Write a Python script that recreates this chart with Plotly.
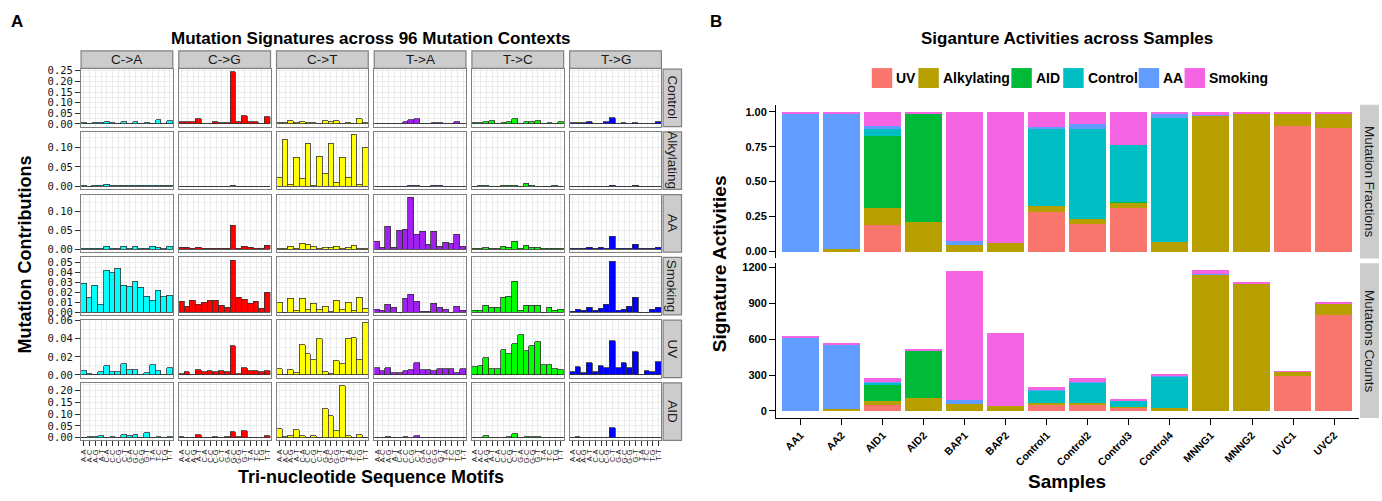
import plotly.graph_objects as go

W, H = 1382, 501

# ---------------- data: panel A ----------------
mutation_types = ["C->A", "C->G", "C->T", "T->A", "T->C", "T->G"]
bases = ["A", "C", "G", "T"]
signatures = ["Control", "Alkylating", "AA", "Smoking", "UV", "AID"]
type_colors = ["#00FFFF", "#FF0000", "#FFFF00", "#A020F0", "#00FF00", "#0000FF"]

control = [
    0.003, 0.001, 0.002, 0.004, 0.010, 0.003, 0.001, 0.010, 0.001, 0.010, 0.001, 0.004, 0.001, 0.018, 0.001, 0.015,
    0.008, 0.008, 0.008, 0.023, 0.001, 0.001, 0.007, 0.004, 0.004, 0.245, 0.008, 0.037, 0.008, 0.008, 0.001, 0.031,
    0.003, 0.003, 0.014, 0.002, 0.009, 0.004, 0.004, 0.001, 0.014, 0.009, 0.014, 0.001, 0.004, 0.001, 0.023, 0.002,
    0.001, 0.001, 0.001, 0.001, 0.001, 0.008, 0.018, 0.023, 0.001, 0.001, 0.003, 0.003, 0.001, 0.001, 0.010, 0.001,
    0.002, 0.004, 0.009, 0.013, 0.001, 0.004, 0.009, 0.023, 0.001, 0.009, 0.009, 0.013, 0.001, 0.003, 0.001, 0.008,
    0.002, 0.002, 0.002, 0.008, 0.001, 0.001, 0.008, 0.028, 0.001, 0.003, 0.001, 0.003, 0.001, 0.001, 0.001, 0.008,
]
alkylating = [
    0.001, 0.0004, 0.001, 0.001, 0.004, 0.001, 0.001, 0.001, 0.001, 0.002, 0.001, 0.001, 0.002, 0.002, 0.001, 0.001,
    0.0004, 0.0004, 0.0004, 0.0004, 0.0004, 0.0004, 0.0004, 0.0004, 0.0004, 0.002, 0.0004, 0.0004, 0.0004, 0.0004, 0.0004, 0.0004,
    0.022, 0.119, 0.004, 0.073, 0.019, 0.109, 0.003, 0.076, 0.032, 0.108, 0.009, 0.072, 0.022, 0.132, 0.004, 0.097,
    0.0004, 0.0004, 0.0004, 0.0004, 0.0004, 0.0004, 0.002, 0.002, 0.0004, 0.0004, 0.002, 0.002, 0.0004, 0.0004, 0.0004, 0.0004,
    0.0004, 0.002, 0.002, 0.0004, 0.0004, 0.002, 0.002, 0.002, 0.0004, 0.006, 0.002, 0.0004, 0.0004, 0.0004, 0.002, 0.0004,
    0.0004, 0.0004, 0.0004, 0.0004, 0.0004, 0.0004, 0.0004, 0.002, 0.0004, 0.0004, 0.0004, 0.002, 0.0004, 0.0004, 0.0004, 0.0004,
]
aa = [
    0.001, 0.002, 0.002, 0.001, 0.007, 0.002, 0.002, 0.007, 0.002, 0.007, 0.001, 0.002, 0.007, 0.004, 0.001, 0.007,
    0.004, 0.004, 0.001, 0.004, 0.002, 0.002, 0.002, 0.001, 0.002, 0.063, 0.001, 0.008, 0.004, 0.002, 0.002, 0.010,
    0.002, 0.002, 0.007, 0.001, 0.016, 0.013, 0.008, 0.002, 0.004, 0.004, 0.008, 0.001, 0.004, 0.010, 0.002, 0.002,
    0.021, 0.004, 0.060, 0.004, 0.050, 0.052, 0.138, 0.039, 0.047, 0.013, 0.047, 0.008, 0.018, 0.016, 0.039, 0.008,
    0.002, 0.001, 0.005, 0.002, 0.001, 0.008, 0.004, 0.021, 0.002, 0.010, 0.004, 0.004, 0.002, 0.002, 0.001, 0.001,
    0.001, 0.002, 0.002, 0.004, 0.002, 0.004, 0.002, 0.034, 0.002, 0.001, 0.002, 0.013, 0.001, 0.002, 0.001, 0.005,
]
smoking = [
    0.029, 0.0145, 0.027, 0.0075, 0.042, 0.040, 0.044, 0.027, 0.026, 0.031, 0.025, 0.016, 0.0115, 0.022, 0.016, 0.017,
    0.0105, 0.006, 0.0115, 0.0077, 0.0095, 0.0115, 0.0115, 0.0067, 0.0048, 0.052, 0.0144, 0.0125, 0.0087, 0.0105, 0.0038, 0.020,
    0.0096, 0.0003, 0.0135, 0.002, 0.0135, 0.003, 0.0087, 0.003, 0.0058, 0.001, 0.0115, 0.003, 0.0096, 0.002, 0.0144, 0.0038,
    0.0032, 0.002, 0.0077, 0.0048, 0.0002, 0.0135, 0.018, 0.011, 0.001, 0.001, 0.0087, 0.0048, 0.003, 0.0002, 0.0058, 0.002,
    0.0016, 0.0016, 0.0067, 0.0048, 0.0048, 0.0144, 0.0154, 0.031, 0.0016, 0.0067, 0.0067, 0.0067, 0.0002, 0.0048, 0.0016, 0.003,
    0.001, 0.003, 0.002, 0.0048, 0.002, 0.0038, 0.0077, 0.051, 0.002, 0.003, 0.0058, 0.0144, 0.0002, 0.0002, 0.003, 0.0048,
]
uv = [
    0.0042, 0.0014, 0.0003, 0.0032, 0.0095, 0.0032, 0.0032, 0.0116, 0.0053, 0.0053, 0.0003, 0.002, 0.0105, 0.0042, 0.0003, 0.0074,
    0.001, 0.0032, 0.0003, 0.0053, 0.0032, 0.0042, 0.0032, 0.0042, 0.0032, 0.0316, 0.001, 0.0074, 0.0042, 0.0042, 0.0032, 0.0042,
    0.0063, 0.0003, 0.0053, 0.002, 0.0326, 0.023, 0.0158, 0.040, 0.0032, 0.001, 0.0147, 0.0116, 0.040, 0.041, 0.0158, 0.0575,
    0.0074, 0.0042, 0.0074, 0.002, 0.002, 0.0042, 0.0053, 0.0126, 0.0053, 0.0053, 0.0042, 0.0063, 0.0063, 0.0063, 0.002, 0.0063,
    0.0084, 0.0095, 0.019, 0.0063, 0.0063, 0.0274, 0.023, 0.0337, 0.0442, 0.0263, 0.0316, 0.0358, 0.0105, 0.0105, 0.0063, 0.0053,
    0.0032, 0.0084, 0.002, 0.0126, 0.0032, 0.0095, 0.0074, 0.0368, 0.0074, 0.0126, 0.0074, 0.0253, 0.0003, 0.0042, 0.0032, 0.0137,
]
aid = [
    0.0006, 0.004, 0.004, 0.008, 0.0006, 0.004, 0.0006, 0.012, 0.008, 0.012, 0.0006, 0.021, 0.0006, 0.004, 0.0006, 0.004,
    0.004, 0.0006, 0.0006, 0.012, 0.0006, 0.0006, 0.004, 0.0006, 0.004, 0.025, 0.004, 0.029, 0.0006, 0.0006, 0.0006, 0.008,
    0.0375, 0.004, 0.008, 0.033, 0.008, 0.0006, 0.008, 0.0006, 0.121, 0.092, 0.029, 0.221, 0.008, 0.0006, 0.0125, 0.0006,
    0.0006, 0.0006, 0.004, 0.0006, 0.0006, 0.004, 0.0006, 0.008, 0.0006, 0.0006, 0.0006, 0.0006, 0.0006, 0.0006, 0.0006, 0.0006,
    0.0006, 0.0006, 0.008, 0.0006, 0.0006, 0.0006, 0.002, 0.017, 0.0006, 0.002, 0.002, 0.002, 0.0006, 0.0006, 0.0006, 0.0006,
    0.0006, 0.003, 0.0006, 0.0006, 0.0006, 0.0006, 0.0006, 0.042, 0.0006, 0.0006, 0.0006, 0.0006, 0.0006, 0.0006, 0.0006, 0.0006,
]
row_dticks = [0.05, 0.05, 0.05, 0.01, 0.02, 0.05]

# ---------------- data: panel B ----------------
samples = ["AA1", "AA2", "AID1", "AID2", "BAP1", "BAP2", "Control1", "Control2",
           "Control3", "Control4", "MNNG1", "MNNG2", "UVC1", "UVC2"]
act_names = ["UV", "Alkylating", "AID", "Control", "AA", "Smoking"]
act_colors = ["#F8766D", "#B79F00", "#00BA38", "#00BFC4", "#619CFF", "#F564E3"]

frac_uv = [0, 0, 0.19, 0, 0, 0, 0.285, 0.20, 0.315, 0, 0, 0, 0.90, 0.885]
frac_alk = [0, 0.02, 0.12, 0.215, 0.05, 0.06, 0.045, 0.035, 0.035, 0.07, 0.975, 0.99, 0.09, 0.105]
frac_aid = [0, 0, 0.52, 0.775, 0, 0, 0, 0, 0.005, 0, 0, 0, 0, 0]
frac_control = [0, 0, 0.05, 0, 0, 0, 0.545, 0.64, 0.41, 0.89, 0, 0, 0, 0]
frac_aa = [0.99, 0.97, 0.02, 0, 0.03, 0, 0.015, 0.04, 0, 0.03, 0.005, 0, 0, 0]
frac_smoking = [0.01, 0.01, 0.10, 0.01, 0.92, 0.94, 0.11, 0.085, 0.235, 0.01, 0.02, 0.01, 0.01, 0.01]

cnt_uv = [0, 0, 45, 0, 0, 0, 55, 54, 28, 0, 0, 0, 292, 798]
cnt_alk = [0, 10, 32, 103, 55, 38, 7, 9, 4, 20, 1140, 1059, 33, 98]
cnt_aid = [0, 0, 143, 402, 0, 0, 0, 0, 1, 0, 0, 0, 0, 0]
cnt_control = [0, 0, 14, 0, 0, 0, 108, 168, 44, 265, 0, 0, 0, 0]
cnt_aa = [610, 540, 6, 0, 38, 0, 3, 11, 0, 9, 5, 0, 0, 0]
cnt_smoking = [8, 10, 32, 8, 1074, 612, 27, 30, 24, 4, 30, 10, 5, 8]

# ---------------- helpers ----------------
def px(x):
    return x / W

def py(y):
    return 1 - y / H

SANS = "Liberation Sans, Arial, sans-serif"
MONO = "DejaVu Sans Mono, monospace"

sig_values = [control, alkylating, aa, smoking, uv, aid]
context_labels = [f"{bases[i // 4]}<span style='color:#c8642a'>-</span>{bases[i % 4]}" for i in range(16)]

fig = go.Figure()
layout = {}
shapes = []
annotations = []

col_x0 = [79.3 + 98.0 * c for c in range(6)]
col_w = 92.0
row_y0 = [64.3 + 63.9 * r for r in range(6)]
row_h = 58.5

def ax_name(k, kind):
    return f"{kind}axis" if k == 1 else f"{kind}axis{k}"

def ax_ref(k, kind):
    return kind if k == 1 else f"{kind}{k}"

# ---------------- panel A ----------------
for r, vals in enumerate(sig_values):
    M = max(vals)
    yr = [-0.05 * M, 1.05 * M]
    dt = row_dticks[r]
    for c in range(6):
        k = r * 6 + c + 1
        seg = vals[c * 16:(c + 1) * 16]
        fig.add_trace(go.Bar(
            x=list(range(16)), y=seg,
            xaxis=ax_ref(k, "x"), yaxis=ax_ref(k, "y"),
            width=1.0,
            marker=dict(color=type_colors[c], line=dict(color="#333333", width=0.8)),
            showlegend=False, hoverinfo="skip",
        ))
        bottom = (r == 5)
        left = (c == 0)
        layout[ax_name(k, "x")] = dict(
            domain=[px(col_x0[c]), px(col_x0[c] + col_w)],
            anchor=ax_ref(k, "y"),
            range=[-0.5, 15.5],
            tickmode="array", tickvals=list(range(16)),
            ticktext=context_labels if bottom else [""] * 16,
            showticklabels=bottom,
            tickangle=-90,
            tickfont=dict(family=SANS, size=7.5, color="#222222"),
            ticks="outside" if bottom else "", ticklen=5, tickcolor="#333333", tickwidth=1,
            showgrid=True, gridcolor="#EBEBEB", gridwidth=1,
            zeroline=False,
            showline=True, mirror=True, linecolor="#808080", linewidth=1.2,
            fixedrange=True,
        )
        layout[ax_name(k, "y")] = dict(
            domain=[py(row_y0[r] + row_h), py(row_y0[r])],
            anchor=ax_ref(k, "x"),
            range=yr,
            tickmode="linear", tick0=0, dtick=dt, tickformat=".2f",
            showticklabels=left,
            tickfont=dict(family=MONO, size=10.5, color="#111111"),
            ticks="outside" if left else "", ticklen=5, tickcolor="#333333", tickwidth=1,
            showgrid=True, gridcolor="#EBEBEB", gridwidth=1,
            minor=dict(tickmode="linear", tick0=0, dtick=dt / 2, showgrid=True,
                       gridcolor="#F0F0F0", gridwidth=0.6, ticks=""),
            zeroline=False,
            showline=True, mirror=True, linecolor="#808080", linewidth=1.2,
            fixedrange=True,
        )

# column strips
for c, name in enumerate(mutation_types):
    shapes.append(dict(type="rect", xref="paper", yref="paper",
                       x0=px(col_x0[c]), x1=px(col_x0[c] + col_w),
                       y0=py(63.6), y1=py(45.7),
                       fillcolor="#CCCCCC", line=dict(color="#808080", width=1.2), layer="below"))
    annotations.append(dict(text=name, xref="paper", yref="paper",
                            x=px(col_x0[c] + col_w / 2), y=py(54.8),
                            xanchor="center", yanchor="middle", showarrow=False,
                            font=dict(family=SANS, size=13.5, color="#1a1a1a")))
# row strips
for r, name in enumerate(signatures):
    shapes.append(dict(type="rect", xref="paper", yref="paper",
                       x0=px(663.0), x1=px(681.5),
                       y0=py(row_y0[r] + row_h), y1=py(row_y0[r]),
                       fillcolor="#CCCCCC", line=dict(color="#808080", width=1.2), layer="below"))
    annotations.append(dict(text=name, xref="paper", yref="paper",
                            x=px(672.3), y=py(row_y0[r] + row_h / 2),
                            xanchor="center", yanchor="middle", showarrow=False, textangle=90,
                            font=dict(family=SANS, size=13.5, color="#1a1a1a")))

annotations += [
    dict(text="<b>A</b>", x=px(15), y=py(16), font=dict(family=SANS, size=17, color="black")),
    dict(text="<b>Mutation Signatures across 96 Mutation Contexts</b>", x=px(370), y=py(33),
         font=dict(family=SANS, size=17, color="black")),
    dict(text="<b>Mutation Contributions</b>", x=px(24), y=py(253), textangle=-90,
         font=dict(family=SANS, size=18, color="black")),
    dict(text="<b>Tri-nucleotide Sequence Motifs</b>", x=px(370), y=py(480),
         font=dict(family=SANS, size=18, color="black")),
]

# ---------------- panel B ----------------
frac_series = [frac_uv, frac_alk, frac_aid, frac_control, frac_aa, frac_smoking]
cnt_series = [cnt_uv, cnt_alk, cnt_aid, cnt_control, cnt_aa, cnt_smoking]
xb = list(range(len(samples)))
kt, kb = 37, 38
for name, col, fv, cv in zip(act_names, act_colors, frac_series, cnt_series):
    fig.add_trace(go.Bar(x=xb, y=fv, xaxis=ax_ref(kt, "x"), yaxis=ax_ref(kt, "y"),
                         width=0.9, marker=dict(color=col, line=dict(width=0)),
                         name=name, showlegend=False, hoverinfo="skip"))
    fig.add_trace(go.Bar(x=xb, y=cv, xaxis=ax_ref(kb, "x"), yaxis=ax_ref(kb, "y"),
                         width=0.9, marker=dict(color=col, line=dict(width=0)),
                         name=name, showlegend=False, hoverinfo="skip"))

totals = [sum(v) for v in zip(*cnt_series)]
Mb = max(totals)
bx0, bx1 = 776.4, 1360.6
tick_font_b = dict(family=SANS, size=11, color="black", weight="bold")

layout[ax_name(kt, "x")] = dict(domain=[px(bx0), px(bx1)], anchor=ax_ref(kt, "y"),
                                range=[-0.6, len(samples) - 0.4], showticklabels=False,
                                ticks="", showgrid=False, zeroline=False, showline=False,
                                fixedrange=True)
layout[ax_name(kt, "y")] = dict(domain=[py(257.1), py(100.6)], anchor=ax_ref(kt, "x"),
                                range=[-0.05, 1.05], tickmode="array",
                                tickvals=[0, 0.25, 0.5, 0.75, 1.0],
                                ticktext=["0.00", "0.25", "0.50", "0.75", "1.00"],
                                tickfont=tick_font_b, ticks="outside", ticklen=6,
                                tickcolor="black", tickwidth=1,
                                showgrid=False, zeroline=False, showline=True,
                                linecolor="black", linewidth=1.2, fixedrange=True)
layout[ax_name(kb, "x")] = dict(domain=[px(bx0), px(bx1)], anchor=ax_ref(kb, "y"),
                                range=[-0.6, len(samples) - 0.4], tickmode="array",
                                tickvals=xb, ticktext=samples, tickangle=-45,
                                tickfont=dict(family=SANS, size=10.5, color="black", weight="bold"),
                                ticks="outside", ticklen=6, tickcolor="black", tickwidth=1,
                                showgrid=False, zeroline=False, showline=True,
                                linecolor="black", linewidth=1.2, fixedrange=True)
layout[ax_name(kb, "y")] = dict(domain=[py(419.5), py(262.0)], anchor=ax_ref(kb, "x"),
                                range=[-0.05 * Mb, 1.05 * Mb], tickmode="array",
                                tickvals=[0, 300, 600, 900, 1200],
                                tickfont=tick_font_b, ticks="outside", ticklen=6,
                                tickcolor="black", tickwidth=1,
                                showgrid=False, zeroline=False, showline=True,
                                linecolor="black", linewidth=1.2, fixedrange=True)

# strips panel B
for (y0, y1, name) in [(100.6, 257.1, "Mutation Fractions"), (262.0, 419.5, "Mutatons Counts")]:
    shapes.append(dict(type="rect", xref="paper", yref="paper",
                       x0=px(1362), x1=px(1381), y0=py(y1), y1=py(y0),
                       fillcolor="#CCCCCC", line=dict(width=0), layer="below"))
    annotations.append(dict(text=name, x=px(1371.5), y=py((y0 + y1) / 2), textangle=90,
                            font=dict(family=SANS, size=13.5, color="#1a1a1a")))

# legend panel B (manual)
key_x = [872.3, 919.0, 1012.3, 1064.3, 1140.0, 1186.0]
for name, col, kx in zip(act_names, act_colors, key_x):
    shapes.append(dict(type="rect", xref="paper", yref="paper",
                       x0=px(kx), x1=px(kx + 20.5), y0=py(83.5), y1=py(63.2),
                       fillcolor=col, line=dict(width=0)))
    annotations.append(dict(text=f"<b>{name}</b>", x=px(kx + 22.5), y=py(73.5), xanchor="left",
                            font=dict(family=SANS, size=14, color="black")))

annotations += [
    dict(text="<b>B</b>", x=px(716), y=py(16), font=dict(family=SANS, size=17, color="black")),
    dict(text="<b>Siganture Activities across Samples</b>", x=px(1068), y=py(33),
         font=dict(family=SANS, size=17, color="black")),
    dict(text="<b>Signature Activities</b>", x=px(719), y=py(262), textangle=-90,
         font=dict(family=SANS, size=19, color="black")),
    dict(text="<b>Samples</b>", x=px(1068), y=py(484),
         font=dict(family=SANS, size=19, color="black")),
]

for a in annotations:
    a.setdefault("xref", "paper")
    a.setdefault("yref", "paper")
    a.setdefault("xanchor", "center")
    a.setdefault("yanchor", "middle")
    a.setdefault("showarrow", False)

fig.update_layout(
    width=W, height=H,
    margin=dict(l=0, r=0, t=0, b=0),
    paper_bgcolor="white", plot_bgcolor="white",
    barmode="stack", bargap=0,
    showlegend=False,
    shapes=shapes, annotations=annotations,
    **layout,
)

fig.write_html(
    "out.html",
    config={"displayModeBar": False},
    post_script="document.body.style.margin='0';document.body.style.padding='0';document.body.style.overflow='hidden';",
)
